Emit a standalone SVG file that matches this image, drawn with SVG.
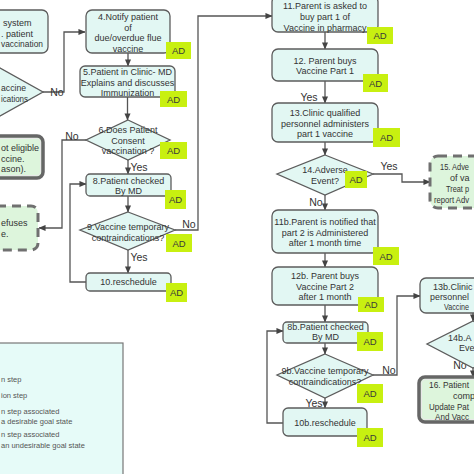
<svg xmlns="http://www.w3.org/2000/svg" width="474" height="474" viewBox="0 0 474 474">
<defs>
<marker id="ah" viewBox="0 0 8 8" refX="7.5" refY="4" markerWidth="7" markerHeight="7" markerUnits="userSpaceOnUse" orient="auto">
<path d="M0,0.5 L8,4 L0,7.5 Z" fill="#444"/>
</marker>
<style>
.n{fill:#e2f7f3;stroke:#5c5c5c;stroke-width:1.3}
.g{fill:#ddf5dc;stroke:#707070;stroke-width:3;stroke-dasharray:9 6}
.d{fill:#ddf5dc;stroke:#666;stroke-width:3.5}
.di{fill:none;stroke:#e8e8e8;stroke-width:1}
.ad{fill:#c8f010;stroke:none}
text{font-family:"Liberation Sans",Arial,sans-serif;fill:#333}
.t{font-size:9px;text-anchor:middle}
.ts{font-size:9px}
.at{font-size:9.5px;text-anchor:middle;fill:#3a3a3a}
.lb{font-size:10.5px;text-anchor:middle;fill:#333}
.lg{font-size:7.5px;fill:#555}
.c{fill:none;stroke:#555;stroke-width:1.3}
</style>
</defs>
<rect width="474" height="474" fill="#ffffff"/>

<g id="connectors">
<path class="c" d="M43,92 H64 V32 H85" marker-end="url(#ah)"/>
<path class="c" d="M128,53 V66" marker-end="url(#ah)"/>
<path class="c" d="M127.5,97 V120" marker-end="url(#ah)"/>
<path class="c" d="M86,140 H62 V228 H39" marker-end="url(#ah)"/>
<path class="c" d="M128,160 V174" marker-end="url(#ah)"/>
<path class="c" d="M128,196 V212" marker-end="url(#ah)"/>
<path class="c" d="M175,230 H198 V16 H272" marker-end="url(#ah)"/>
<path class="c" d="M128,250 V273" marker-end="url(#ah)"/>
<path class="c" d="M86,282 H70 V184 H86" marker-end="url(#ah)"/>
<path class="c" d="M325,32 V49" marker-end="url(#ah)"/>
<path class="c" d="M325,81 V103" marker-end="url(#ah)"/>
<path class="c" d="M325,142 V155" marker-end="url(#ah)"/>
<path class="c" d="M373,174 H402 V182 H430" marker-end="url(#ah)"/>
<path class="c" d="M325,195 V210" marker-end="url(#ah)"/>
<path class="c" d="M325,253 V267" marker-end="url(#ah)"/>
<path class="c" d="M325,305 V322" marker-end="url(#ah)"/>
<path class="c" d="M325,343 V354" marker-end="url(#ah)"/>
<path class="c" d="M373,375 H397 V296 H420" marker-end="url(#ah)"/>
<path class="c" d="M325,398 V408" marker-end="url(#ah)"/>
<path class="c" d="M283,423 H267 V331 H283" marker-end="url(#ah)"/>
<path class="c" d="M473,313 V321" marker-end="url(#ah)"/>
<path class="c" d="M473,368 V377" marker-end="url(#ah)"/>
<text class="lb" x="57" y="96">No</text>
<text class="lb" x="72" y="140">No</text>
<text class="lb" x="139" y="171">Yes</text>
<text class="lb" x="189" y="228">No</text>
<text class="lb" x="139" y="261">Yes</text>
<text class="lb" x="309" y="101">Yes</text>
<text class="lb" x="389" y="170">Yes</text>
<text class="lb" x="316" y="206">No</text>
<text class="lb" x="389" y="374">No</text>
<text class="lb" x="314" y="407">Yes</text>
<text class="lb" x="460" y="369">No</text>
</g>

<g id="n3">
<rect class="n" x="-10" y="10" width="58" height="43" rx="6"/>
<text class="ts" x="3" y="26">system</text>
<text class="ts" x="1" y="37">. patient</text>
<text class="ts" x="1" y="47" textLength="42" lengthAdjust="spacingAndGlyphs">vaccination</text>
</g>

<g id="d2">
<polygon class="n" points="-11,62 43,92 -11,122 -65,92"/>
<text class="ts" x="1" y="91" textLength="25" lengthAdjust="spacingAndGlyphs">accine</text>
<text class="ts" x="1" y="102" textLength="27" lengthAdjust="spacingAndGlyphs">ications</text>
</g>

<g id="ne">
<rect class="d" x="-10" y="136" width="53" height="42" rx="6"/>
<rect class="di" x="-8" y="138.5" width="48.5" height="37" rx="4.5"/>
<text class="ts" x="1" y="151">ot eligible</text>
<text class="ts" x="1" y="162">ccine.</text>
<text class="ts" x="1" y="172">ason).</text>
</g>

<g id="ref">
<rect class="g" x="-10" y="206" width="48" height="44" rx="7"/>
<text class="ts" x="1" y="226">efuses</text>
<text class="ts" x="1" y="237">e.</text>
</g>

<g id="legend">
<rect x="-10" y="343" width="133" height="140" fill="#e6fbf8" stroke="#777" stroke-width="1.2"/>
<text class="lg" x="1" y="382">n step</text>
<text class="lg" x="1" y="398">ion step</text>
<text class="lg" x="1" y="414">n step associated</text>
<text class="lg" x="1" y="424">a desirable goal state</text>
<text class="lg" x="1" y="437">n step associated</text>
<text class="lg" x="1" y="448">an undesirable goal state</text>
</g>

<g id="n4">
<rect class="n" x="86" y="10" width="84" height="43" rx="6"/>
<text class="t" x="128" y="20">4.Notify patient</text>
<text class="t" x="128" y="30.5">of</text>
<text class="t" x="128" y="41">due/overdue flue</text>
<text class="t" x="128" y="51.5">vaccine</text>
<rect class="ad" x="166" y="42" width="25" height="17"/>
<text class="at" x="178.5" y="54">AD</text>
</g>

<g id="n5">
<rect class="n" x="80" y="66" width="95" height="31" rx="5"/>
<text class="t" x="127.5" y="75">5.Patient in Clinic- MD</text>
<text class="t" x="127.5" y="86">Explains and discusses</text>
<text class="t" x="127.5" y="96">Immunization</text>
<rect class="ad" x="160" y="91" width="27" height="16"/>
<text class="at" x="173.5" y="102.5">AD</text>
</g>

<g id="n6">
<polygon class="n" points="128,120 170,140 128,160 86,140"/>
<text class="t" x="128" y="133">6.Does Patient</text>
<text class="t" x="128" y="144">Consent</text>
<text class="t" x="128" y="154">vaccination ?</text>
<rect class="ad" x="160" y="142" width="27" height="17"/>
<text class="at" x="173.5" y="154">AD</text>
</g>

<g id="n8">
<rect class="n" x="86" y="174" width="85" height="22" rx="4"/>
<text class="t" x="128.5" y="184">8.Patient checked</text>
<text class="t" x="128.5" y="194">By MD</text>
<rect class="ad" x="165" y="190" width="21" height="19"/>
<text class="at" x="175.5" y="203">AD</text>
</g>

<g id="n9">
<polygon class="n" points="128,212 175,230 128,250 80,230"/>
<text class="t" x="128" y="230">9.Vaccine temporary</text>
<text class="t" x="128" y="241">contraindications?</text>
<rect class="ad" x="166" y="234" width="26" height="18"/>
<text class="at" x="179" y="246.5">AD</text>
</g>

<g id="n10">
<rect class="n" x="86" y="273" width="85" height="18" rx="4"/>
<text class="t" x="128.5" y="285">10.reschedule</text>
<rect class="ad" x="166" y="283" width="21" height="19"/>
<text class="at" x="176.5" y="296">AD</text>
</g>

<g id="n11">
<rect class="n" x="272" y="-4" width="106" height="36" rx="6"/>
<text class="t" x="325" y="9">11.Parent is asked to</text>
<text class="t" x="325" y="20">buy part 1 of</text>
<text class="t" x="325" y="31">Vaccine in pharmacy</text>
<rect class="ad" x="367" y="27" width="26" height="17"/>
<text class="at" x="380" y="39">AD</text>
</g>

<g id="n12">
<rect class="n" x="272" y="49" width="106" height="32" rx="6"/>
<text class="t" x="325" y="64">12. Parent buys</text>
<text class="t" x="325" y="74">Vaccine Part 1</text>
<rect class="ad" x="363" y="74" width="25" height="18"/>
<text class="at" x="375.5" y="86.5">AD</text>
</g>

<g id="n13">
<rect class="n" x="272" y="103" width="106" height="39" rx="6"/>
<text class="t" x="325" y="116">13.Clinic qualified</text>
<text class="t" x="325" y="127">personnel administers</text>
<text class="t" x="325" y="137">part 1 vaccine</text>
<rect class="ad" x="373" y="128" width="27" height="19"/>
<text class="at" x="386.5" y="141">AD</text>
</g>

<g id="n14">
<polygon class="n" points="325,155 373,174 325,195 277,174"/>
<text class="t" x="325" y="173">14.Adverse</text>
<text class="t" x="325" y="184">Event?</text>
<rect class="ad" x="345" y="171" width="22" height="17"/>
<text class="at" x="356" y="183">AD</text>
</g>

<g id="n15">
<rect class="g" x="430" y="156" width="100" height="52" rx="8"/>
<text class="ts" x="440" y="170" textLength="29" lengthAdjust="spacingAndGlyphs">15. Adve</text>
<text class="ts" x="450" y="181">of va</text>
<text class="ts" x="446" y="192" textLength="23" lengthAdjust="spacingAndGlyphs">Treat p</text>
<text class="ts" x="434" y="203" textLength="35" lengthAdjust="spacingAndGlyphs">report Adv</text>
</g>

<g id="n11b">
<rect class="n" x="272" y="210" width="106" height="43" rx="6"/>
<text class="t" x="325" y="225">11b.Parent is notified that</text>
<text class="t" x="325" y="236">part 2 is Administered</text>
<text class="t" x="325" y="246">after 1 month time</text>
<rect class="ad" x="373" y="247" width="26" height="18"/>
<text class="at" x="386" y="259.5">AD</text>
</g>

<g id="n12b">
<rect class="n" x="272" y="267" width="106" height="38" rx="6"/>
<text class="t" x="325" y="279">12b. Parent buys</text>
<text class="t" x="325" y="290">Vaccine Part 2</text>
<text class="t" x="325" y="300">after 1 month</text>
<rect class="ad" x="358" y="297" width="26" height="15"/>
<text class="at" x="371" y="308">AD</text>
</g>

<g id="n8b">
<rect class="n" x="283" y="322" width="85" height="21" rx="4"/>
<text class="t" x="325.5" y="330">8b.Patient checked</text>
<text class="t" x="325.5" y="340">By MD</text>
<rect class="ad" x="357" y="332" width="26" height="19"/>
<text class="at" x="370" y="345">AD</text>
</g>

<g id="n9b">
<polygon class="n" points="325,354 373,375 325,398 277,375"/>
<text class="t" x="325" y="374">9b.Vaccine temporary</text>
<text class="t" x="325" y="385">contraindications?</text>
<rect class="ad" x="357" y="384" width="26" height="19"/>
<text class="at" x="370" y="397">AD</text>
</g>

<g id="n10b">
<rect class="n" x="283" y="408" width="84" height="28" rx="5"/>
<text class="t" x="325" y="426">10b.reschedule</text>
<rect class="ad" x="357" y="428" width="26" height="19"/>
<text class="at" x="370" y="441">AD</text>
</g>

<g id="n13b">
<rect class="n" x="420" y="278" width="110" height="35" rx="6"/>
<text class="ts" x="433" y="290">13b.Clinic</text>
<text class="ts" x="430" y="300" textLength="39" lengthAdjust="spacingAndGlyphs">personnel</text>
<text class="ts" x="444" y="310" textLength="25" lengthAdjust="spacingAndGlyphs">Vaccine</text>
</g>

<g id="n14b">
<polygon class="n" points="473,321 520,344 473,368 427,344"/>
<text class="ts" x="448" y="341">14b.A</text>
<text class="ts" x="459" y="351">Eve</text>
</g>

<g id="n16">
<rect class="d" x="419" y="377" width="110" height="45" rx="6"/>
<rect class="di" x="421.5" y="379.5" width="105" height="40" rx="4.5"/>
<text class="ts" x="429" y="388" textLength="40" lengthAdjust="spacingAndGlyphs">16. Patient</text>
<text class="ts" x="453" y="399">comp</text>
<text class="ts" x="429" y="410" textLength="40" lengthAdjust="spacingAndGlyphs">Update Pat</text>
<text class="ts" x="435" y="420" textLength="34" lengthAdjust="spacingAndGlyphs">And Vacc</text>
</g>
</svg>
